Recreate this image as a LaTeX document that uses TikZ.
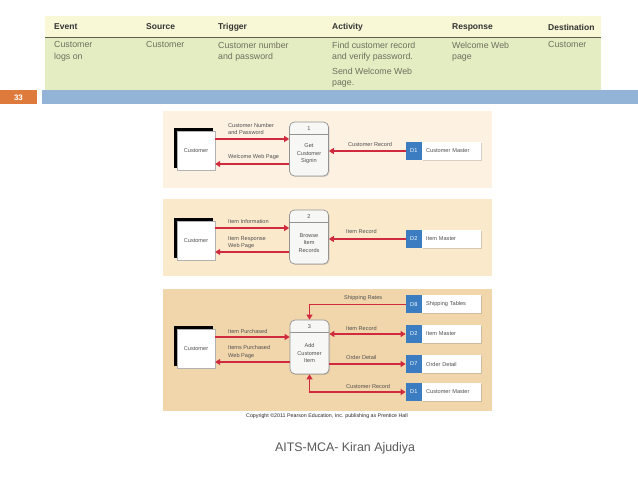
\documentclass[tikz,border=0pt]{standalone}
\usepackage{fontspec}
\setmainfont{Liberation Sans}
\usetikzlibrary{shadows,arrows.meta}
\definecolor{tabhead}{HTML}{F8F7D6}
\definecolor{tabbody}{HTML}{E4EDC2}
\definecolor{tabrule}{HTML}{5E5E4A}
\definecolor{tabtxt}{HTML}{6E6E5E}
\definecolor{orangebox}{HTML}{DE7A3C}
\definecolor{bluebar}{HTML}{93B4D6}
\definecolor{panelA}{HTML}{FDF1E2}
\definecolor{panelB}{HTML}{FBE9CB}
\definecolor{panelC}{HTML}{F1D6AC}
\definecolor{flowred}{HTML}{CF2A3E}
\definecolor{storeblue}{HTML}{3B7DC0}
\definecolor{procfill}{HTML}{F7F7F5}
\definecolor{dtxt}{HTML}{505050}
\definecolor{foot}{HTML}{595959}
\newcommand{\dfont}{\fontsize{5.6}{7.6}\selectfont}
\tikzset{
  custbox/.style={draw=gray!60, fill=white, minimum width=38pt, minimum height=39pt, inner sep=0pt, font=\dfont, text=dtxt,
    copy shadow={shadow xshift=-3pt, shadow yshift=3pt, fill=black, draw=black}},
  procbox/.style={draw=gray!85, line width=0.7pt, fill=procfill, rounded corners=5pt, minimum width=39pt, minimum height=54pt, inner sep=0pt,
    drop shadow={shadow xshift=1pt, shadow yshift=-1pt, opacity=0.25}},
  ptxt/.style={font=\dfont, text=dtxt, align=center, inner sep=0pt},
  sid/.style={fill=storeblue, text=white, minimum width=16pt, minimum height=18pt, inner sep=0pt, font=\dfont, anchor=east},
  sname/.style={fill=white, minimum height=18pt, text width=51pt, inner xsep=4pt, inner ysep=0pt, align=left, font=\dfont, text=dtxt, anchor=west,
    drop shadow={shadow xshift=1pt, shadow yshift=-1pt, opacity=0.3}},
  flow/.style={draw=flowred, line width=1.6pt, -{Triangle[length=5pt,width=6pt]}},
  flowboth/.style={draw=flowred, line width=1.6pt, {Triangle[length=5pt,width=6pt]}-{Triangle[length=5pt,width=6pt]}},
  lbl/.style={font=\dfont, text=dtxt, anchor=west, align=left, inner sep=0pt},
  thead/.style={font=\fontsize{8.5}{10}\selectfont\bfseries, text=black!80, anchor=west, inner sep=0pt},
  tbody/.style={font=\fontsize{8.8}{11.8}\selectfont, text=tabtxt, anchor=west, inner sep=0pt, align=left},
}
\begin{document}
\begin{tikzpicture}[x=1pt,y=-1pt]
\useasboundingbox (0,0) rectangle (638,478);
\fill[white] (0,0) rectangle (638,478);
% ---------- table ----------
\fill[tabbody] (45,16) rectangle (601,91);
\fill[tabhead] (45,16) rectangle (601,37);
\draw[tabrule, line width=1.4pt] (45,37.5) -- (601,37.5);
\node[thead] (hEvent) at (54,27) {Event};
\node[thead] (hSource) at (146,27) {Source};
\node[thead] (hTrigger) at (218,27) {Trigger};
\node[thead] (hActivity) at (332,27) {Activity};
\node[thead] (hResponse) at (452,27) {Response};
\node[thead] (hDest) at (548,27) {Destination};
\node[tbody, anchor=north west] (bEvent) at (54,41.5) {Customer\\logs on};
\node[tbody, anchor=north west] (bSource) at (146,41.5) {Customer};
\node[tbody, anchor=north west] (bTrigger) at (218,41.5) {Customer number\\and password};
\node[tbody, anchor=north west] (bAct1) at (332,41.5) {Find customer record\\and verify password.};
\node[tbody, anchor=north west] (bAct2) at (332,67.5) {Send Welcome Web\\page.};
\node[tbody, anchor=north west] (bResp) at (452,41.5) {Welcome Web\\page};
\node[tbody, anchor=north west] (bDest) at (548,41.5) {Customer};
% ---------- slide bar ----------
\fill[orangebox] (0,90) rectangle (37,104);
\node[font=\fontsize{8}{9}\selectfont\bfseries, text=white, inner sep=0pt] (num) at (18.5,97.5) {33};
\fill[bluebar] (42,90) rectangle (638,104);
% ---------- panels ----------
\fill[panelA] (163,111) rectangle (492,188);
\fill[panelB] (163,199) rectangle (492,276);
\fill[panelC] (163,289) rectangle (492,411);
% ===== panel 1 =====
\node[custbox] (c1) at (196,150.5) {Customer};
\node[procbox] (p1) at (309,149) {};
\draw[gray!85, line width=0.7pt] ([yshift=-13pt]p1.north west) -- ([yshift=-13pt]p1.north east);
\node[ptxt] (p1n) at (309,129) {1};
\node[ptxt] (p1t) at (309,154) {Get\\Customer\\Signin};
\node[sid] (d1id) at (422,151) {D1};
\node[sname] (d1nm) at (422,151) {Customer Master};
\draw[flow] (c1.east |- 0,139) -- (p1.west |- 0,139);
\draw[flow] (p1.west |- 0,164) -- (c1.east |- 0,164);
\draw[flow] (d1id.west) -- (p1.east |- d1id.west);
\node[lbl] (l11) at (228,129) {Customer Number\\and Password};
\node[lbl] (l12) at (228,157) {Welcome Web Page};
\node[lbl] (l13) at (348,144.5) {Customer Record};
% ===== panel 2 =====
\node[custbox] (c2) at (196,240.5) {Customer};
\node[procbox] (p2) at (309,237) {};
\draw[gray!85, line width=0.7pt] ([yshift=-13pt]p2.north west) -- ([yshift=-13pt]p2.north east);
\node[ptxt] (p2n) at (309,217) {2};
\node[ptxt] (p2t) at (309,243) {Browse\\Item\\Records};
\node[sid] (d2id) at (422,239) {D2};
\node[sname] (d2nm) at (422,239) {Item Master};
\draw[flow] (c2.east |- 0,228) -- (p2.west |- 0,228);
\draw[flow] (p2.west |- 0,252) -- (c2.east |- 0,252);
\draw[flow] (d2id.west) -- (p2.east |- d2id.west);
\node[lbl] (l21) at (228,221.5) {Item Information};
\node[lbl] (l22) at (228,242.5) {Item Response\\Web Page};
\node[lbl] (l23) at (346,232) {Item Record};
% ===== panel 3 =====
\node[custbox] (c3) at (196,349) {Customer};
\node[procbox] (p3) at (309.5,347) {};
\draw[gray!85, line width=0.7pt] ([yshift=-13pt]p3.north west) -- ([yshift=-13pt]p3.north east);
\node[ptxt] (p3n) at (309.5,327) {3};
\node[ptxt] (p3t) at (309.5,353) {Add\\Customer\\Item};
\node[sid] (d8id) at (422,304.5) {D8};
\node[sname] (d8nm) at (422,304.5) {Shipping Tables};
\node[sid] (d2bid) at (422,334) {D2};
\node[sname] (d2bnm) at (422,334) {Item Master};
\node[sid] (d7id) at (422,364) {D7};
\node[sname] (d7nm) at (422,364) {Order Detail};
\node[sid] (d1bid) at (422,392) {D1};
\node[sname] (d1bnm) at (422,392) {Customer Master};
\draw[flow] (c3.east |- 0,337) -- (p3.west |- 0,337);
\draw[flow] (p3.west |- 0,362) -- (c3.east |- 0,362);
\draw[flow] (d8id.west) -| (p3.north);
\draw[flowboth] (p3.east |- d2bid.west) -- (d2bid.west);
\draw[flow] (p3.east |- d7id.west) -- (d7id.west);
\draw[flowboth] (p3.south) |- (d1bid.west);
\node[lbl] (l31) at (228,331) {Item Purchased};
\node[lbl] (l32) at (228,352) {Items Purchased\\Web Page};
\node[lbl] (l33) at (344,298.5) {Shipping Rates};
\node[lbl] (l34) at (346,328) {Item Record};
\node[lbl] (l35) at (346,358) {Order Detail};
\node[lbl] (l36) at (346,386) {Customer Record};
% ---------- captions ----------
\node[font=\fontsize{5.3}{6}\selectfont, text=black!85, inner sep=0pt] (copy) at (327,416.5) {Copyright ©2011 Pearson Education, Inc. publishing as Prentice Hall};
\node[font=\fontsize{12.4}{14}\selectfont, text=foot, inner sep=0pt] (footer) at (345,448) {AITS-MCA- Kiran Ajudiya};
\end{tikzpicture}
\end{document}
